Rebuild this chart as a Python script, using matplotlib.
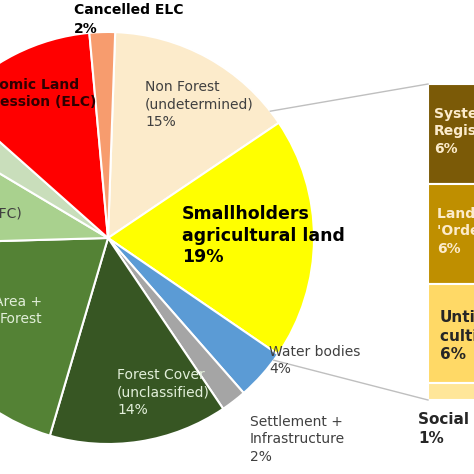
import numpy as np
import matplotlib.pyplot as plt

labels = ["Non Forest", "Smallholders", "Water bodies", "Settlement", "Forest Cover (unclassified)",
          "Protected Area + Forest", "Forest Cover (FC)", "Other forest", "ELC", "Cancelled ELC"]
values = [15, 19, 4, 2, 14, 20, 9, 3, 12, 2]
colors = ["#FCEBCB", "#FFFF00", "#5B9BD5", "#A5A5A5", "#375623",
          "#548235", "#A9D18E", "#C9DEBB", "#FF0000", "#F79C6E"]

bar_labels = ["Systematic Land\nRegistration\n6%", "Land titled under\n'Order 01'\n6%",
              "Untitled\ncultivated land\n6%", "Social land\n1%"]
bar_values = [6, 6, 6, 1]
bar_colors = ["#7B5A07", "#BF8F00", "#FFD966", "#FFE699"]

fig = plt.figure(figsize=(4.74, 4.74), dpi=100)
ax = fig.add_axes([0, 0, 1, 1])

cx, cy, r = 108, 236, 206
start = 88
ax.pie(values, colors=colors, startangle=start, counterclock=False,
       center=(cx, cy), radius=r, frame=True,
       wedgeprops=dict(edgecolor="white", linewidth=1.5))
ax.set_xlim(0, 474)
ax.set_ylim(0, 474)
ax.set_aspect("equal")
ax.axis("off")

# stacked bar for smallholders breakdown
bar_x, bar_w = 428, 70
scale = 316 / sum(bar_values)
top = 474 - 84
bottom = top
for v, c in zip(bar_values, bar_colors):
    bottom -= v * scale
    ax.bar(bar_x, v * scale, width=bar_w, bottom=bottom, align="edge",
           color=c, edgecolor="white", linewidth=1.5)

# connector lines from smallholders wedge
a1 = np.deg2rad(start - values[0] * 3.6 + 4)
a2 = np.deg2rad(start - (values[0] + values[1]) * 3.6 - 2)
ax.plot([cx + r * np.cos(a1), bar_x], [cy + r * np.sin(a1), top], color="#BFBFBF", lw=1)
ax.plot([cx + r * np.cos(a2), bar_x], [cy + r * np.sin(a2), top - sum(bar_values) * scale],
        color="#BFBFBF", lw=1)

fs = 10
ax.text(145, 474 - 80, "Non Forest\n(undetermined)\n15%", fontsize=fs, color="#404040", va="top", linespacing=1.3)
ax.text(182, 474 - 205, "Smallholders\nagricultural land\n19%", fontsize=12.5, fontweight="bold",
        va="top", linespacing=1.25)
ax.text(269, 474 - 345, "Water bodies\n4%", fontsize=fs, color="#404040", va="top", linespacing=1.3)
ax.text(250, 474 - 415, "Settlement +\nInfrastructure\n2%", fontsize=fs, color="#404040", va="top", linespacing=1.3)
ax.text(117, 474 - 368, "Forest Cover\n(unclassified)\n14%", fontsize=fs, color="#E2EFDA", va="top", linespacing=1.3)
ax.text(42, 474 - 295, "Protected Area +\nForest", fontsize=fs, color="#E2EFDA", va="top", ha="right",
        multialignment="right", linespacing=1.3)
ax.text(22, 474 - 206, "Forest Cover (FC)", fontsize=fs, color="#404040", va="top", ha="right")
ax.text(-38, 474 - 78, "Economic Land\nConcession (ELC)\n12%", fontsize=fs, fontweight="bold",
        color="#300000", va="top", linespacing=1.3)
ax.text(74, 474 - 3, "Cancelled ELC", fontsize=fs, fontweight="bold", va="top")
ax.text(74, 474 - 22, "2%", fontsize=fs, fontweight="bold", va="top")

ax.text(434, 474 - 107, bar_labels[0], fontsize=fs, fontweight="bold", color="#FCEBCB", va="top", linespacing=1.3)
ax.text(437, 474 - 207, bar_labels[1], fontsize=fs, fontweight="bold", color="#FCEBCB", va="top", linespacing=1.3)
ax.text(440, 474 - 310, bar_labels[2], fontsize=fs + 1, fontweight="bold", color="#262626", va="top", linespacing=1.3)
ax.text(418, 474 - 412, bar_labels[3], fontsize=fs + 1, fontweight="bold", color="#262626", va="top", linespacing=1.3)

fig.savefig("out.png", dpi=100)
